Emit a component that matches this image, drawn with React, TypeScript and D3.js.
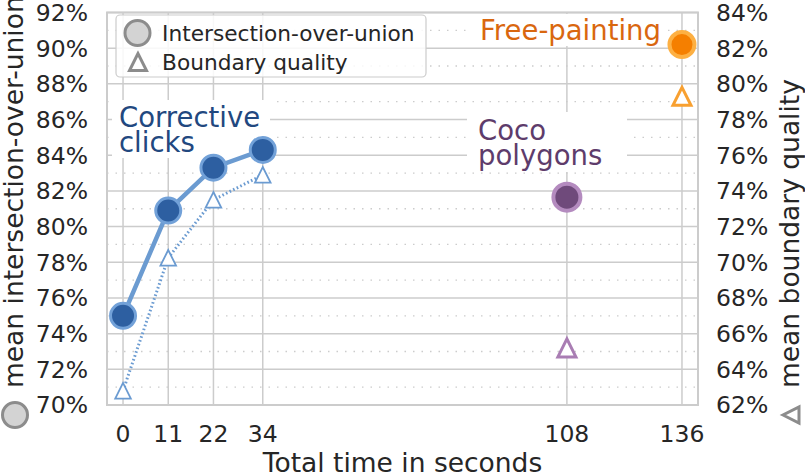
import * as d3 from "d3";

// time (s) and scores (%)
const clickTimes = [0, 11, 22, 34];
const clickIoU = [75.0, 80.9, 83.3, 84.3];
const clickBQ = [62.8, 70.25, 73.5, 74.9];
const cocoTime = [108];
const cocoIoU = [81.65];
const cocoBQ = [65.2];
const freeTime = [136];
const freeIoU = [90.2];
const freeBQ = [79.3];

const xTicks = [0, 11, 22, 34, 108, 136];
const leftTicks = [70, 72, 74, 76, 78, 80, 82, 84, 86, 88, 90, 92];
const rightTicks = [62, 64, 66, 68, 70, 72, 74, 76, 78, 80, 82, 84];

const W = 805;
const H = 474;
const plot = { left: 107, right: 698, top: 12.5, bottom: 405 };
const font = "DejaVu Sans, sans-serif";
const txt = "#262626";
const grid = "#cccccc";

const tri = (cx: number, cy: number, s: number) =>
  `M${cx},${cy - s}L${cx - s},${cy + s}L${cx + s},${cy + s}Z`;

export default function App() {
  const x = d3.scaleLinear().domain([-3.9, 139.9]).range([plot.left, plot.right]);
  const yL = d3.scaleLinear().domain([70, 92]).range([plot.bottom, plot.top]);
  const yR = d3.scaleLinear().domain([62, 84]).range([plot.bottom, plot.top]);

  const minor = d3.range(71, 92, 2);
  const iouPath = d3.line<number>().x((_, i) => x(clickTimes[i])).y((d) => yL(d))(clickIoU) || "";
  const bqPath = d3.line<number>().x((_, i) => x(clickTimes[i])).y((d) => yR(d))(clickBQ) || "";

  return (
    <svg width={W} height={H} style={{ position: "absolute", left: 0, top: 0, fontFamily: font }}>
      <rect width={W} height={H} fill="white" />

      {/* grid */}
      {minor.map((v) => (
        <line key={"m" + v} x1={plot.left} x2={plot.right} y1={yL(v)} y2={yL(v)}
          stroke={grid} strokeWidth={1.3} strokeDasharray="1.5,7" />
      ))}
      {leftTicks.map((v) => (
        <line key={"h" + v} x1={plot.left} x2={plot.right} y1={yL(v)} y2={yL(v)}
          stroke={grid} strokeWidth={1.5} />
      ))}
      {xTicks.map((t) => (
        <line key={"v" + t} x1={x(t)} x2={x(t)} y1={plot.top} y2={plot.bottom}
          stroke={grid} strokeWidth={1.5} />
      ))}
      <rect x={plot.left} y={plot.top} width={plot.right - plot.left} height={plot.bottom - plot.top}
        fill="none" stroke={grid} strokeWidth={2} />

      {/* ticks */}
      {leftTicks.map((v) => (
        <text key={"lt" + v} x={88} y={yL(v)} dy="0.36em" textAnchor="end" fontSize={23.5} fill={txt}>{v}%</text>
      ))}
      {rightTicks.map((v) => (
        <text key={"rt" + v} x={716} y={yR(v)} dy="0.36em" textAnchor="start" fontSize={23.5} fill={txt}>{v}%</text>
      ))}
      {xTicks.map((t) => (
        <text key={"xt" + t} x={x(t)} y={442} textAnchor="middle" fontSize={23.5} fill={txt}>{t}</text>
      ))}

      {/* axis labels */}
      <text transform="translate(23,388) rotate(-90)" fontSize={26.5} fill={txt}>mean intersection-over-union</text>
      <circle cx={15} cy={415} r={12.5} fill="#d3d3d3" stroke="#8c8c8c" strokeWidth={3} />
      <text transform="translate(799,388) rotate(-90)" fontSize={26.5} fill={txt}>mean boundary quality</text>
      <path d={tri(0, 0, 8)} transform="translate(791,415) rotate(-90)" fill="white" stroke="#8c8c8c" strokeWidth={3} />
      <text x={(plot.left + plot.right) / 2} y={472} textAnchor="middle" fontSize={26.5} fill={txt}>Total time in seconds</text>

      {/* annotation backgrounds */}
      <rect x={112} y={100} width={158} height={58} fill="white" />
      <rect x={467} y={112} width={160} height={60} fill="white" />
      <rect x={470} y={14} width={195} height={32} fill="white" />

      {/* corrective clicks */}
      <path d={bqPath} fill="none" stroke="#6b9bd1" strokeWidth={3} strokeDasharray="1.6,2.4" />
      <path d={iouPath} fill="none" stroke="#6b9bd1" strokeWidth={4.5} />
      {clickBQ.map((v, i) => (
        <path key={"cb" + i} d={tri(x(clickTimes[i]), yR(v), 7.8)} fill="white" stroke="#6b9bd1" strokeWidth={1.8} />
      ))}
      {clickIoU.map((v, i) => (
        <circle key={"ci" + i} cx={x(clickTimes[i])} cy={yL(v)} r={12.5} fill="#2d5fa1" stroke="#72a1d8" strokeWidth={3} />
      ))}

      {/* coco */}
      {cocoBQ.map((v, i) => (
        <path key={"kb" + i} d={tri(x(cocoTime[i]), yR(v), 9)} fill="white" stroke="#a97db3" strokeWidth={3} />
      ))}
      {cocoIoU.map((v, i) => (
        <circle key={"ki" + i} cx={x(cocoTime[i])} cy={yL(v)} r={13.5} fill="#6f4a7b" stroke="#b48bbf" strokeWidth={4} />
      ))}

      {/* free painting */}
      {freeBQ.map((v, i) => (
        <path key={"fb" + i} d={tri(x(freeTime[i]), yR(v), 9)} fill="white" stroke="#f8a030" strokeWidth={3} />
      ))}
      {freeIoU.map((v, i) => (
        <circle key={"fi" + i} cx={x(freeTime[i])} cy={yL(v)} r={12.5} fill="#f57f00" stroke="#fdb043" strokeWidth={4} />
      ))}

      {/* labels */}
      <text x={119} y={127} fontSize={27.5} fill="#22487f">Corrective</text>
      <text x={119} y={152} fontSize={27.5} fill="#22487f">clicks</text>
      <text x={478} y={140} fontSize={27.5} fill="#5e3c6b">Coco</text>
      <text x={478} y={165} fontSize={27.5} fill="#5e3c6b">polygons</text>
      <text x={661} y={40} textAnchor="end" fontSize={27.5} fill="#d9670f">Free-painting</text>

      {/* legend */}
      <rect x={116} y={15} width={310} height={62} rx={4} fill="white" fillOpacity={0.85} stroke={grid} strokeWidth={1.2} />
      <circle cx={137.5} cy={33} r={12.5} fill="#d3d3d3" stroke="#8c8c8c" strokeWidth={3} />
      <text x={162} y={41} fontSize={21.7} fill={txt}>Intersection-over-union</text>
      <path d={tri(138, 62, 8.5)} fill="white" stroke="#8c8c8c" strokeWidth={3} />
      <text x={162} y={70} fontSize={21.7} fill={txt}>Boundary quality</text>
    </svg>
  );
}
